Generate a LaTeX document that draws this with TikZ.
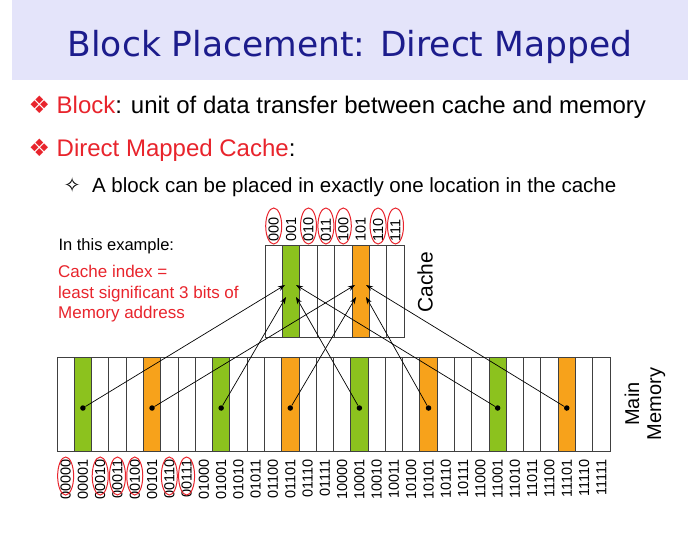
\documentclass[tikz,border=0pt]{standalone}
\usepackage{fontspec}
\setmainfont{Liberation Sans}
\newfontfamily\djv{DejaVu Sans}
\usetikzlibrary{arrows.meta}
\definecolor{titlebg}{HTML}{E4E4FA}
\definecolor{titlefg}{HTML}{1C1C8C}
\definecolor{gr}{HTML}{8CC21E}
\definecolor{orng}{HTML}{F7A21B}
\definecolor{rd}{HTML}{E8242C}
\begin{document}
\begin{tikzpicture}[x=1pt,y=-1pt,
  cell/.style={draw=black!75,line width=0.8pt},
  lab/.style={rotate=90,font=\fontsize{14.5}{14.5}\selectfont,inner sep=0pt},
  circ/.style={draw=rd,line width=1pt},
  conn/.style={line width=0.7pt,-{Stealth[length=7pt,width=5pt]}},
  dotn/.style={circle,fill=black,inner sep=0pt,minimum size=5.5pt}]
\useasboundingbox (0,0) rectangle (700,550);
\fill[titlebg] (12,0) rectangle (688,80);
\node (title) at (350,47) {\djv\fontsize{34.5}{34.5}\selectfont\color{titlefg}Block Placement: Direct Mapped};
\node[anchor=west,font=\fontsize{24}{24}\selectfont] (b1) at (25,107) {{\djv\color{rd}❖} \textcolor{rd}{Block}: unit of data transfer between cache and memory};
\node[anchor=west,font=\fontsize{24}{24}\selectfont] (b2) at (25,150) {{\djv\color{rd}❖} \textcolor{rd}{Direct Mapped Cache}:};
\node[anchor=west,font=\fontsize{20.5}{20.5}\selectfont] (b3) at (60,187) {{\djv ✧}\ \ A block can be placed in exactly one location in the cache};
\node[anchor=west,font=\fontsize{16.5}{16.5}\selectfont] (ex) at (55,246) {In this example:};
\node[anchor=north west,align=left,text=rd,font=\fontsize{17}{20.5}\selectfont,inner sep=0pt] (ci) at (58,265) {Cache index =\\least significant 3 bits of\\Memory address};
% cache
\foreach \i/\l in {0/000,1/001,2/010,3/011,4/100,5/101,6/110,7/111}{
  \pgfmathsetmacro\xa{265+\i*17.4}
  \ifnum\i=1 \def\fc{gr}\else\ifnum\i=5 \def\fc{orng}\else\def\fc{white}\fi\fi
  \draw[cell,fill=\fc] (\xa,245) rectangle ++(17.4,92);
  \node[lab,anchor=west] (cl\i) at (\xa+8.7,242) {\l};
}
\foreach \i in {0,2,3,4,6,7}{
  \draw[circ] (265+\i*17.4+8.7,226) ellipse (8 and 18);
}
\node[rotate=90,font=\fontsize{21}{21}\selectfont] (cache) at (425,282) {Cache};
% memory
\foreach \i in {0,...,31}{
  \pgfmathsetmacro\xa{57+\i*17.28}
  \pgfmathtruncatemacro\m{mod(\i,8)}
  \ifnum\m=1 \def\fc{gr}\else\ifnum\m=5 \def\fc{orng}\else\def\fc{white}\fi\fi
  \draw[cell,fill=\fc] (\xa,357) rectangle ++(17.28,94);
  \pgfmathtruncatemacro\ba{mod(floor(\i/16),2)}
  \pgfmathtruncatemacro\bb{mod(floor(\i/8),2)}
  \pgfmathtruncatemacro\bc{mod(floor(\i/4),2)}
  \pgfmathtruncatemacro\bd{mod(floor(\i/2),2)}
  \pgfmathtruncatemacro\be{mod(\i,2)}
  \node[lab,anchor=east] (ml\i) at (\xa+8.64,459) {\ba\bb\bc\bd\be};
}
\foreach \i in {0,2,3,4,6,7}{
  \draw[circ] (57+\i*17.28+8.64,476) ellipse (8 and 19);
}
\node[rotate=90,align=center,font=\fontsize{20}{22}\selectfont] (mm) at (645,404) {Main\\Memory};
% dots and arrows
\foreach \i/\tx/\ty in {1/285/285, 5/355/285, 9/286/297, 13/356/297, 17/296/297, 21/366/297, 25/296/285, 29/366/285}{
  \node[dotn] (d\i) at (57+\i*17.28+8.64,408) {};
  \coordinate (t\i) at (\tx,\ty);
  \draw[conn] (d\i) -- (t\i);
}
\end{tikzpicture}
\end{document}
